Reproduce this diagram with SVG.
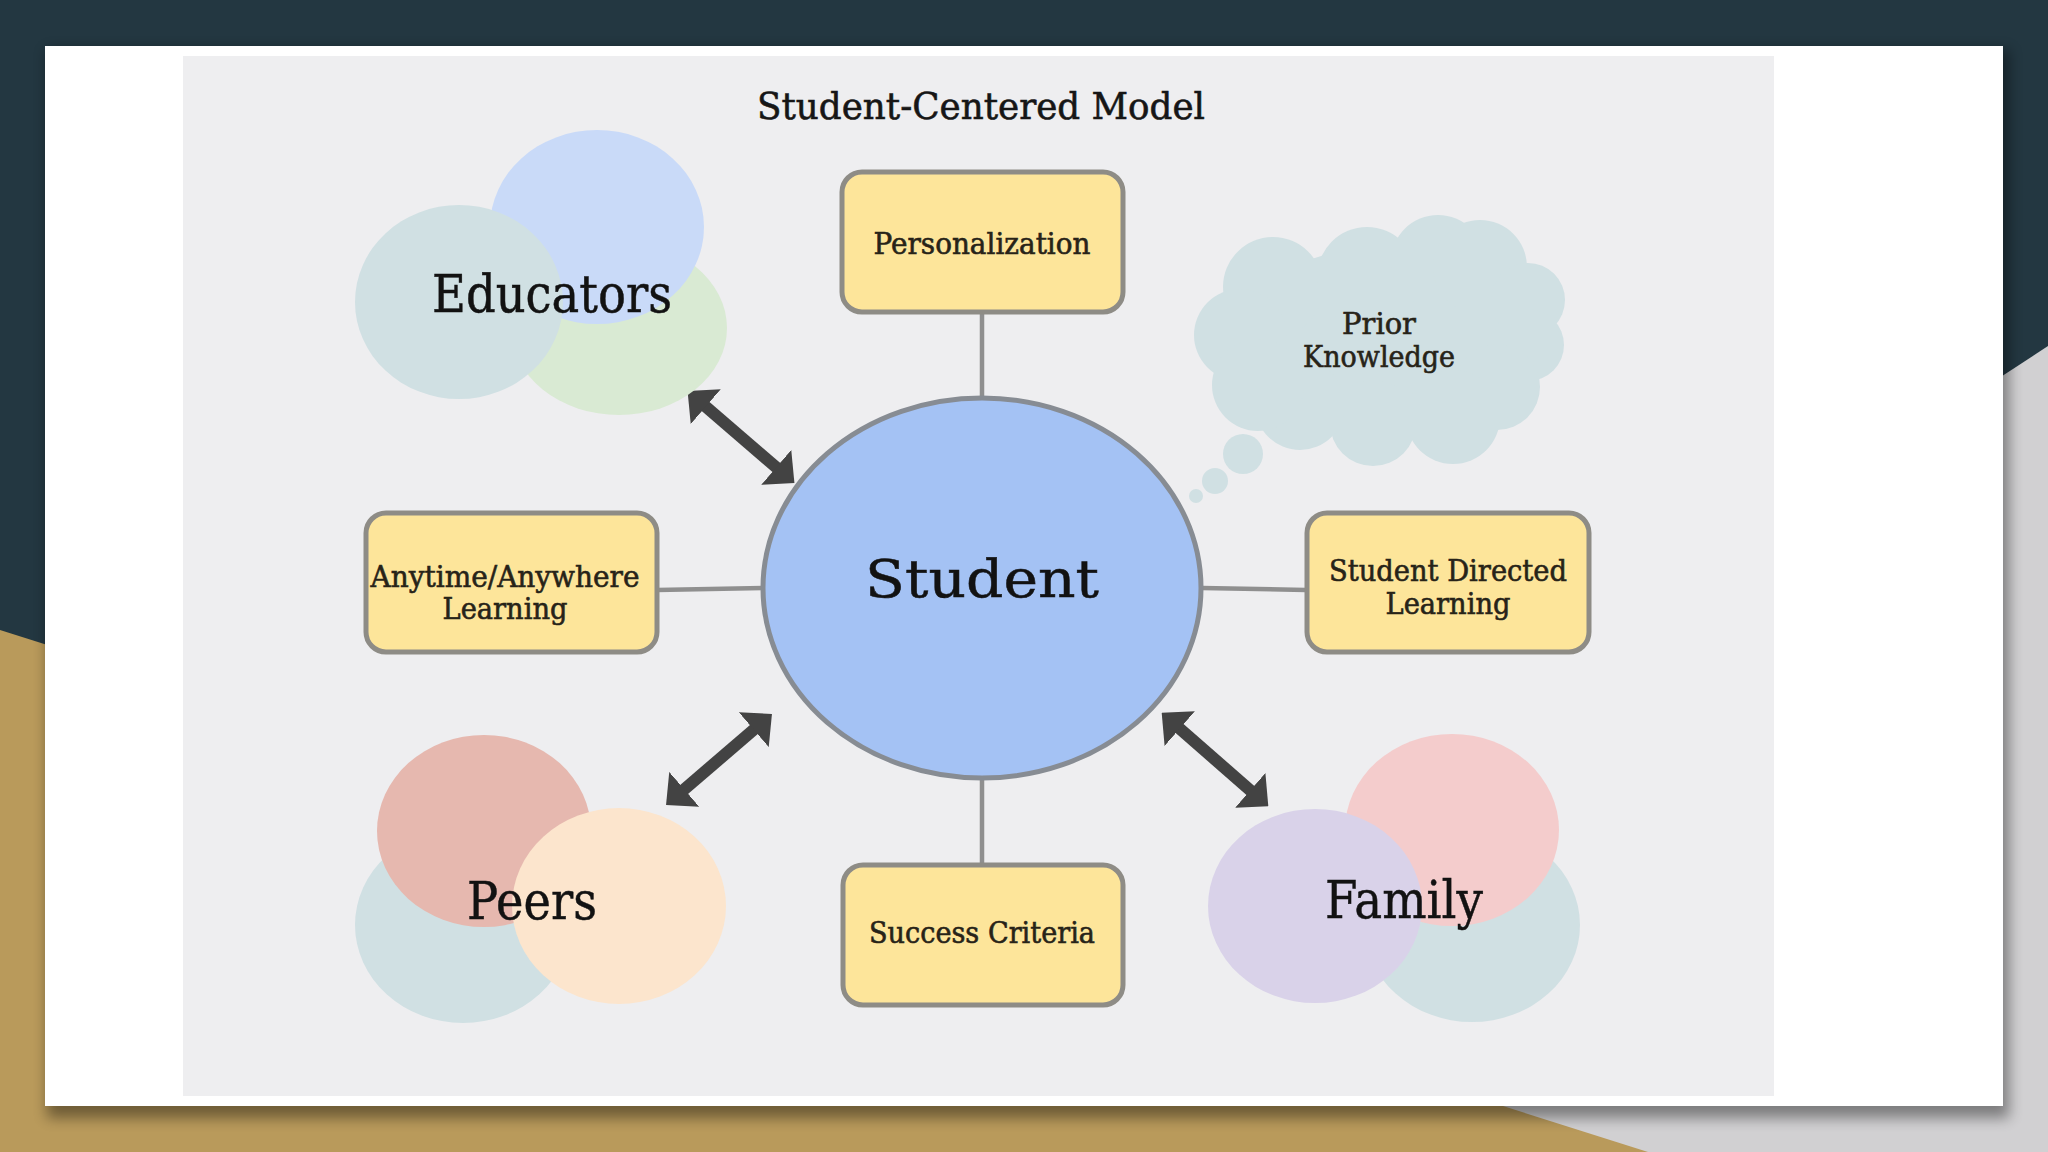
<svg xmlns="http://www.w3.org/2000/svg" width="2048" height="1152" viewBox="0 0 2048 1152">
  <defs>
    <style>
      .box { fill: #fde59a; stroke: #8e8c86; stroke-width: 5; }
      .boxtxt { font-family: "DejaVu Serif", "Liberation Serif", serif; font-size: 29px; fill: #272318; stroke: #272318; stroke-width: 0.6; text-anchor: middle; }
      .big { font-family: "DejaVu Serif", "Liberation Serif", serif; font-size: 52px; fill: #121212; stroke: #121212; stroke-width: 0.5; text-anchor: middle; }
      .link { stroke: #8f8f8f; stroke-width: 4.5; fill: none; }
      .arrow { stroke: #434343; stroke-width: 12; fill: none; marker-start: url(#ah); marker-end: url(#ah); }
      .teal { fill: #d0e0e3; }
    </style>
    <marker id="ah" viewBox="0 0 24 46" refX="1" refY="23" markerWidth="24" markerHeight="46" markerUnits="userSpaceOnUse" orient="auto-start-reverse">
      <path d="M0,0 L24,23 L0,46 z" fill="#434343"/>
    </marker>
    <filter id="shadow" x="-5%" y="-5%" width="110%" height="110%">
      <feGaussianBlur stdDeviation="7"/>
    </filter>
  </defs>

  <!-- slide background -->
  <rect x="0" y="0" width="2048" height="1152" fill="#233741"/>
  <polygon points="2048,346 1200,900 1200,1152 2048,1152" fill="#d1d0d2"/>
  <polygon points="0,630 1648,1152 0,1152" fill="#b99a5b"/>
  <rect x="47" y="50" width="1962" height="1068" fill="#000" opacity="0.4" filter="url(#shadow)"/>
  <rect x="45" y="46" width="1958" height="1060" fill="#ffffff"/>
  <rect x="183" y="56" width="1591" height="1040" fill="#eeeef0"/>

  <!-- title -->
  <text id="title" x="981" y="119" font-family="DejaVu Serif, Liberation Serif, serif" font-size="38" fill="#161616" stroke="#161616" stroke-width="0.6" text-anchor="middle" textLength="448" lengthAdjust="spacingAndGlyphs">Student-Centered Model</text>

  <!-- connectors -->
  <g id="connectors">
    <line class="link" x1="982" y1="312" x2="982" y2="398"/>
    <line class="link" x1="982" y1="778" x2="982" y2="865"/>
    <line class="link" x1="657" y1="590" x2="763" y2="588"/>
    <line class="link" x1="1202" y1="588" x2="1306" y2="590"/>
    <line class="arrow" x1="705" y1="406" x2="777" y2="468"/>
    <line class="arrow" x1="754.5" y1="729" x2="683.5" y2="790"/>
    <line class="arrow" x1="1179" y1="728" x2="1251" y2="791"/>
  </g>

  <!-- Educators -->
  <g id="node-educators">
    <ellipse cx="619" cy="328" rx="108" ry="87" fill="#d9ead3"/>
    <ellipse cx="597" cy="227" rx="107" ry="97" fill="#c9daf8"/>
    <ellipse class="teal" cx="459" cy="302" rx="104" ry="97"/>
    <text class="big" x="552" y="312" textLength="240" lengthAdjust="spacingAndGlyphs">Educators</text>
  </g>

  <!-- Peers -->
  <g id="node-peers">
    <ellipse class="teal" cx="463" cy="925" rx="108" ry="98"/>
    <ellipse cx="484" cy="831" rx="107" ry="96" fill="#e6b8af"/>
    <ellipse cx="619" cy="906" rx="107" ry="98" fill="#fce5cd"/>
    <text class="big" x="532" y="919" textLength="130" lengthAdjust="spacingAndGlyphs">Peers</text>
  </g>

  <!-- Family -->
  <g id="node-family">
    <ellipse class="teal" cx="1472" cy="925" rx="108" ry="97"/>
    <ellipse cx="1452" cy="830" rx="107" ry="96" fill="#f4cccc"/>
    <ellipse cx="1315" cy="906" rx="107" ry="97" fill="#d9d2e9"/>
    <text class="big" x="1404" y="918" textLength="158" lengthAdjust="spacingAndGlyphs">Family</text>
  </g>

  <!-- Prior Knowledge cloud -->
  <g id="node-prior" fill="#d0e0e3">
    <ellipse cx="1378" cy="340" rx="140" ry="92"/>
    <circle cx="1273" cy="287" r="50"/>
    <circle cx="1367" cy="277" r="50"/>
    <circle cx="1438" cy="262" r="47"/>
    <circle cx="1480" cy="267" r="47"/>
    <circle cx="1528" cy="300" r="37"/>
    <circle cx="1528" cy="345" r="36"/>
    <circle cx="1497" cy="387" r="43"/>
    <circle cx="1453" cy="417" r="47"/>
    <circle cx="1373" cy="423" r="43"/>
    <circle cx="1300" cy="405" r="45"/>
    <circle cx="1240" cy="335" r="46"/>
    <circle cx="1258" cy="385" r="46"/>
    <circle cx="1243" cy="454" r="20"/>
    <circle cx="1215" cy="481" r="13"/>
    <circle cx="1196" cy="496" r="7"/>
    <text class="boxtxt" x="1379" y="334" font-size="28" fill="#262626" stroke="#262626">Prior</text>
    <text class="boxtxt" x="1379" y="367" font-size="28" fill="#262626" stroke="#262626" textLength="152" lengthAdjust="spacingAndGlyphs">Knowledge</text>
  </g>

  <!-- Student -->
  <g id="node-student">
    <ellipse cx="982" cy="588" rx="219" ry="190" fill="#a4c2f4" stroke="#878c93" stroke-width="5"/>
    <text class="big" x="982" y="597" font-size="66" textLength="234" lengthAdjust="spacingAndGlyphs">Student</text>
  </g>

  <!-- Personalization -->
  <g id="node-personalization">
    <rect class="box" x="842" y="172" width="281" height="140" rx="20"/>
    <text class="boxtxt" x="982" y="254" textLength="217" lengthAdjust="spacingAndGlyphs">Personalization</text>
  </g>

  <!-- Success Criteria -->
  <g id="node-success">
    <rect class="box" x="843" y="865" width="280" height="140" rx="20"/>
    <text class="boxtxt" x="982" y="943" textLength="226" lengthAdjust="spacingAndGlyphs">Success Criteria</text>
  </g>

  <!-- Anytime/Anywhere Learning -->
  <g id="node-anytime">
    <rect class="box" x="366" y="513" width="291" height="139" rx="20"/>
    <text class="boxtxt" x="505" y="587" textLength="269" lengthAdjust="spacingAndGlyphs">Anytime/Anywhere</text>
    <text class="boxtxt" x="505" y="619" textLength="125" lengthAdjust="spacingAndGlyphs">Learning</text>
  </g>

  <!-- Student Directed Learning -->
  <g id="node-sdl">
    <rect class="box" x="1307" y="513" width="282" height="139" rx="20"/>
    <text class="boxtxt" x="1448" y="581" textLength="238" lengthAdjust="spacingAndGlyphs">Student Directed</text>
    <text class="boxtxt" x="1448" y="614" textLength="125" lengthAdjust="spacingAndGlyphs">Learning</text>
  </g>
</svg>
